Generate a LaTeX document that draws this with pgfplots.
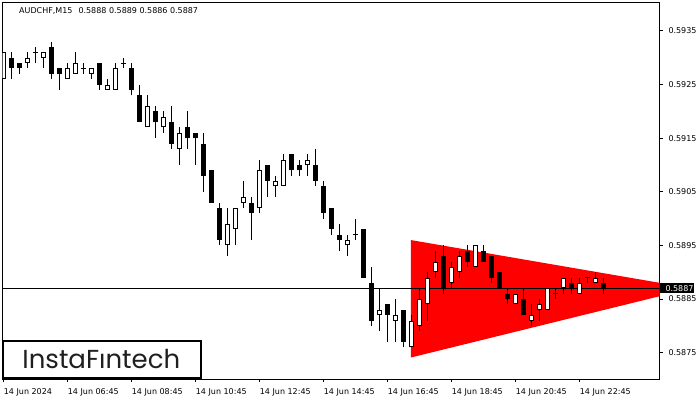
\documentclass[border=0pt]{standalone}
\usepackage{pgfplots}
\pgfplotsset{compat=1.18}
\usepackage{pgfplotstable}
\usepackage{fontspec}
\setmainfont{DejaVu Sans}
\newfontfamily\logofont{Poppins}

% AUDCHF M15, 14 Jun 2024, bar index from 04:45
\pgfplotstableread{
i  O      H      L      C
0  0.5926 0.5931 0.5926 0.5931
1  0.5930 0.5931 0.5926 0.5928
2  0.5929 0.5929 0.5927 0.5928
3  0.5929 0.5931 0.5928 0.5930
4  0.5931 0.5932 0.5929 0.5931
5  0.5930 0.5931 0.5928 0.5931
6  0.5932 0.5933 0.5926 0.5927
7  0.5928 0.5928 0.5924 0.5927
8  0.5926 0.5929 0.5926 0.5928
9  0.5927 0.5931 0.5927 0.5929
10 0.5928 0.5929 0.5927 0.5928
11 0.5927 0.5928 0.5926 0.5928
12 0.5929 0.5929 0.5924 0.5925
13 0.5924 0.5926 0.5924 0.5925
14 0.5924 0.5929 0.5924 0.5928
15 0.5929 0.5930 0.5928 0.5929
16 0.5928 0.5929 0.5923 0.5924
17 0.5923 0.5925 0.5918 0.5918
18 0.5917 0.5923 0.5917 0.5921
19 0.5920 0.5921 0.5915 0.5918
20 0.5917 0.5920 0.5916 0.5919
21 0.5918 0.5921 0.5913 0.5914
22 0.5913 0.5917 0.5910 0.5916
23 0.5917 0.5920 0.5913 0.5915
24 0.5916 0.5916 0.5910 0.5915
25 0.5914 0.5916 0.5905 0.5908
26 0.5909 0.5909 0.5903 0.5903
27 0.5902 0.5903 0.5895 0.5896
28 0.5895 0.5902 0.5893 0.5899
29 0.5898 0.5902 0.5895 0.5902
30 0.5903 0.5907 0.5902 0.5904
31 0.5903 0.5904 0.5896 0.5901
32 0.5902 0.5911 0.5901 0.5909
33 0.5910 0.5910 0.5904 0.5907
34 0.5906 0.5908 0.5904 0.5907
35 0.5906 0.5912 0.5906 0.5911
36 0.5912 0.5912 0.5908 0.5909
37 0.5910 0.5911 0.5908 0.5909
38 0.5910 0.5912 0.5908 0.5911
39 0.5910 0.5913 0.5906 0.5907
40 0.5906 0.5907 0.5900 0.5901
41 0.5902 0.5902 0.5897 0.5898
42 0.5897 0.5899 0.5894 0.5896
43 0.5895 0.5897 0.5893 0.5896
44 0.5897 0.5900 0.5896 0.5897
45 0.5898 0.5898 0.5889 0.5889
46 0.5888 0.5891 0.5880 0.5881
47 0.5882 0.5887 0.5879 0.5883
48 0.5884 0.5884 0.5877 0.5882
49 0.5881 0.5885 0.5877 0.5882
50 0.5883 0.5883 0.5876 0.5877
51 0.5876 0.5882 0.5876 0.5881
52 0.5880 0.5887 0.5879 0.5885
53 0.5884 0.5890 0.5881 0.5889
54 0.5890 0.5894 0.5889 0.5892
55 0.5893 0.5895 0.5886 0.5887
56 0.5888 0.5892 0.5887 0.5891
57 0.5890 0.5894 0.5889 0.5893
58 0.5894 0.5895 0.5891 0.5892
59 0.5891 0.5895 0.5891 0.5895
60 0.5894 0.5895 0.5892 0.5892
61 0.5893 0.5893 0.5888 0.5889
62 0.5890 0.5890 0.5887 0.5887
63 0.5886 0.5887 0.5884 0.5885
64 0.5884 0.5886 0.5884 0.5886
65 0.5885 0.5887 0.5882 0.5882
66 0.5881 0.5884 0.5880 0.5882
67 0.5883 0.5885 0.5881 0.5884
68 0.5883 0.5887 0.5883 0.5887
69 0.5886 0.5887 0.5885 0.5886
70 0.5887 0.5889 0.5886 0.5889
71 0.5888 0.5889 0.5886 0.5887
72 0.5886 0.5889 0.5886 0.5888
73 0.5889 0.5889 0.5888 0.5889
74 0.5888 0.5890 0.5888 0.5889
75 0.5888 0.5889 0.5886 0.5887
}\candles

\begin{document}
\begin{tikzpicture}
\useasboundingbox (0,0) rectangle (700bp,400bp);
\fill[white] (0,0) rectangle (700bp,400bp);
\begin{axis}[
    at={(2.5bp,20.5bp)}, anchor=south west,
    scale only axis, width=657bp, height=377bp,
    xmin=-0.15, xmax=81.975,
    ymin=0.5870, ymax=0.59403,
    axis line style={line width=1bp, black},
    tick style={line width=1bp, black},
    tick align=outside, major tick length=3bp,
    xtick pos=left, ytick pos=right, yticklabel pos=right,
    scaled y ticks=false,
    xtick={0,8,...,72},
    xticklabels={14 Jun 2024,14 Jun 06:45,14 Jun 08:45,14 Jun 10:45,14 Jun 12:45,
                 14 Jun 14:45,14 Jun 16:45,14 Jun 18:45,14 Jun 20:45,14 Jun 22:45},
    ytick={0.5875,0.5885,0.5895,0.5905,0.5915,0.5925,0.5935},
    yticklabels={0.5875,0.5885,0.5895,0.5905,0.5915,0.5925,0.5935},
    ticklabel style={font=\fontsize{8bp}{9bp}\selectfont, inner sep=0pt},
    xticklabel style={anchor=north west, yshift=-5.5bp},
    yticklabel style={anchor=west, xshift=5.8bp},
    candle/.style={draw=none, mark=none, forget plot},
]
% triangle pattern
\addplot[fill=red, draw=none, forget plot] coordinates {
    (50.9,0.5896) (86,0.5887) (50.9,0.58741)
} -- cycle;

% bid line
\addplot[black, line width=1bp, forget plot] coordinates {(-1,0.5887) (90,0.5887)};

% wicks
\addplot[candle,
    error bars/.cd, y dir=plus, y explicit, error mark=none,
    error bar style={draw=black, line width=1bp}]
    table[x=i, y=L, y error expr={\thisrow{H}-\thisrow{L}}] {\candles};

% bodies (black)
\addplot[candle,
    error bars/.cd, y dir=plus, y explicit, error mark=none,
    error bar style={draw=black, line width=5bp, line cap=butt}]
    table[x=i, y expr={min(\thisrow{O},\thisrow{C})},
          y error expr={abs(\thisrow{C}-\thisrow{O})}] {\candles};

% hollow bull bodies
\addplot[candle,
    restrict expr to domain={\thisrow{C}-\thisrow{O}}{0.00005:1},
    error bars/.cd, y dir=plus, y explicit, error mark=none,
    error bar style={draw=white, line width=3bp, line cap=butt,
                     shorten <=1bp, shorten >=1bp}]
    table[x=i, y=O, y error expr={\thisrow{C}-\thisrow{O}}] {\candles};

% doji crosses
\addplot[only marks, mark=-, mark size=2.5bp, forget plot,
    mark options={line width=1bp, black},
    restrict expr to domain={abs(\thisrow{C}-\thisrow{O})}{0:0.00005}]
    table[x=i, y=C] {\candles};

\coordinate (pl) at (axis cs:81.975,0.5887);
\end{axis}

% bid price label
\fill[black] ([xshift=0.5bp,yshift=-5bp]pl) rectangle ([xshift=34bp,yshift=5bp]pl);
\node[anchor=west, inner sep=0pt, text=white, font=\fontsize{8bp}{9bp}\selectfont]
    at ([xshift=5.8bp]pl) {0.5887};

% title
\node[anchor=base west, inner sep=0pt, font=\fontsize{8bp}{9bp}\selectfont]
    at (19bp,386bp) {AUDCHF,M15\hspace{6bp}0.5888 0.5889 0.5886 0.5887};

% logo
\draw[line width=1.7bp, fill=white] (3.3bp,22.3bp) rectangle (201bp,59.2bp);
\node[anchor=base, inner sep=0pt, text=black!88]
    at (101.3bp,31.7bp) {\logofont\fontsize{26bp}{26bp}\selectfont InstaFıntech};
\end{tikzpicture}
\end{document}
